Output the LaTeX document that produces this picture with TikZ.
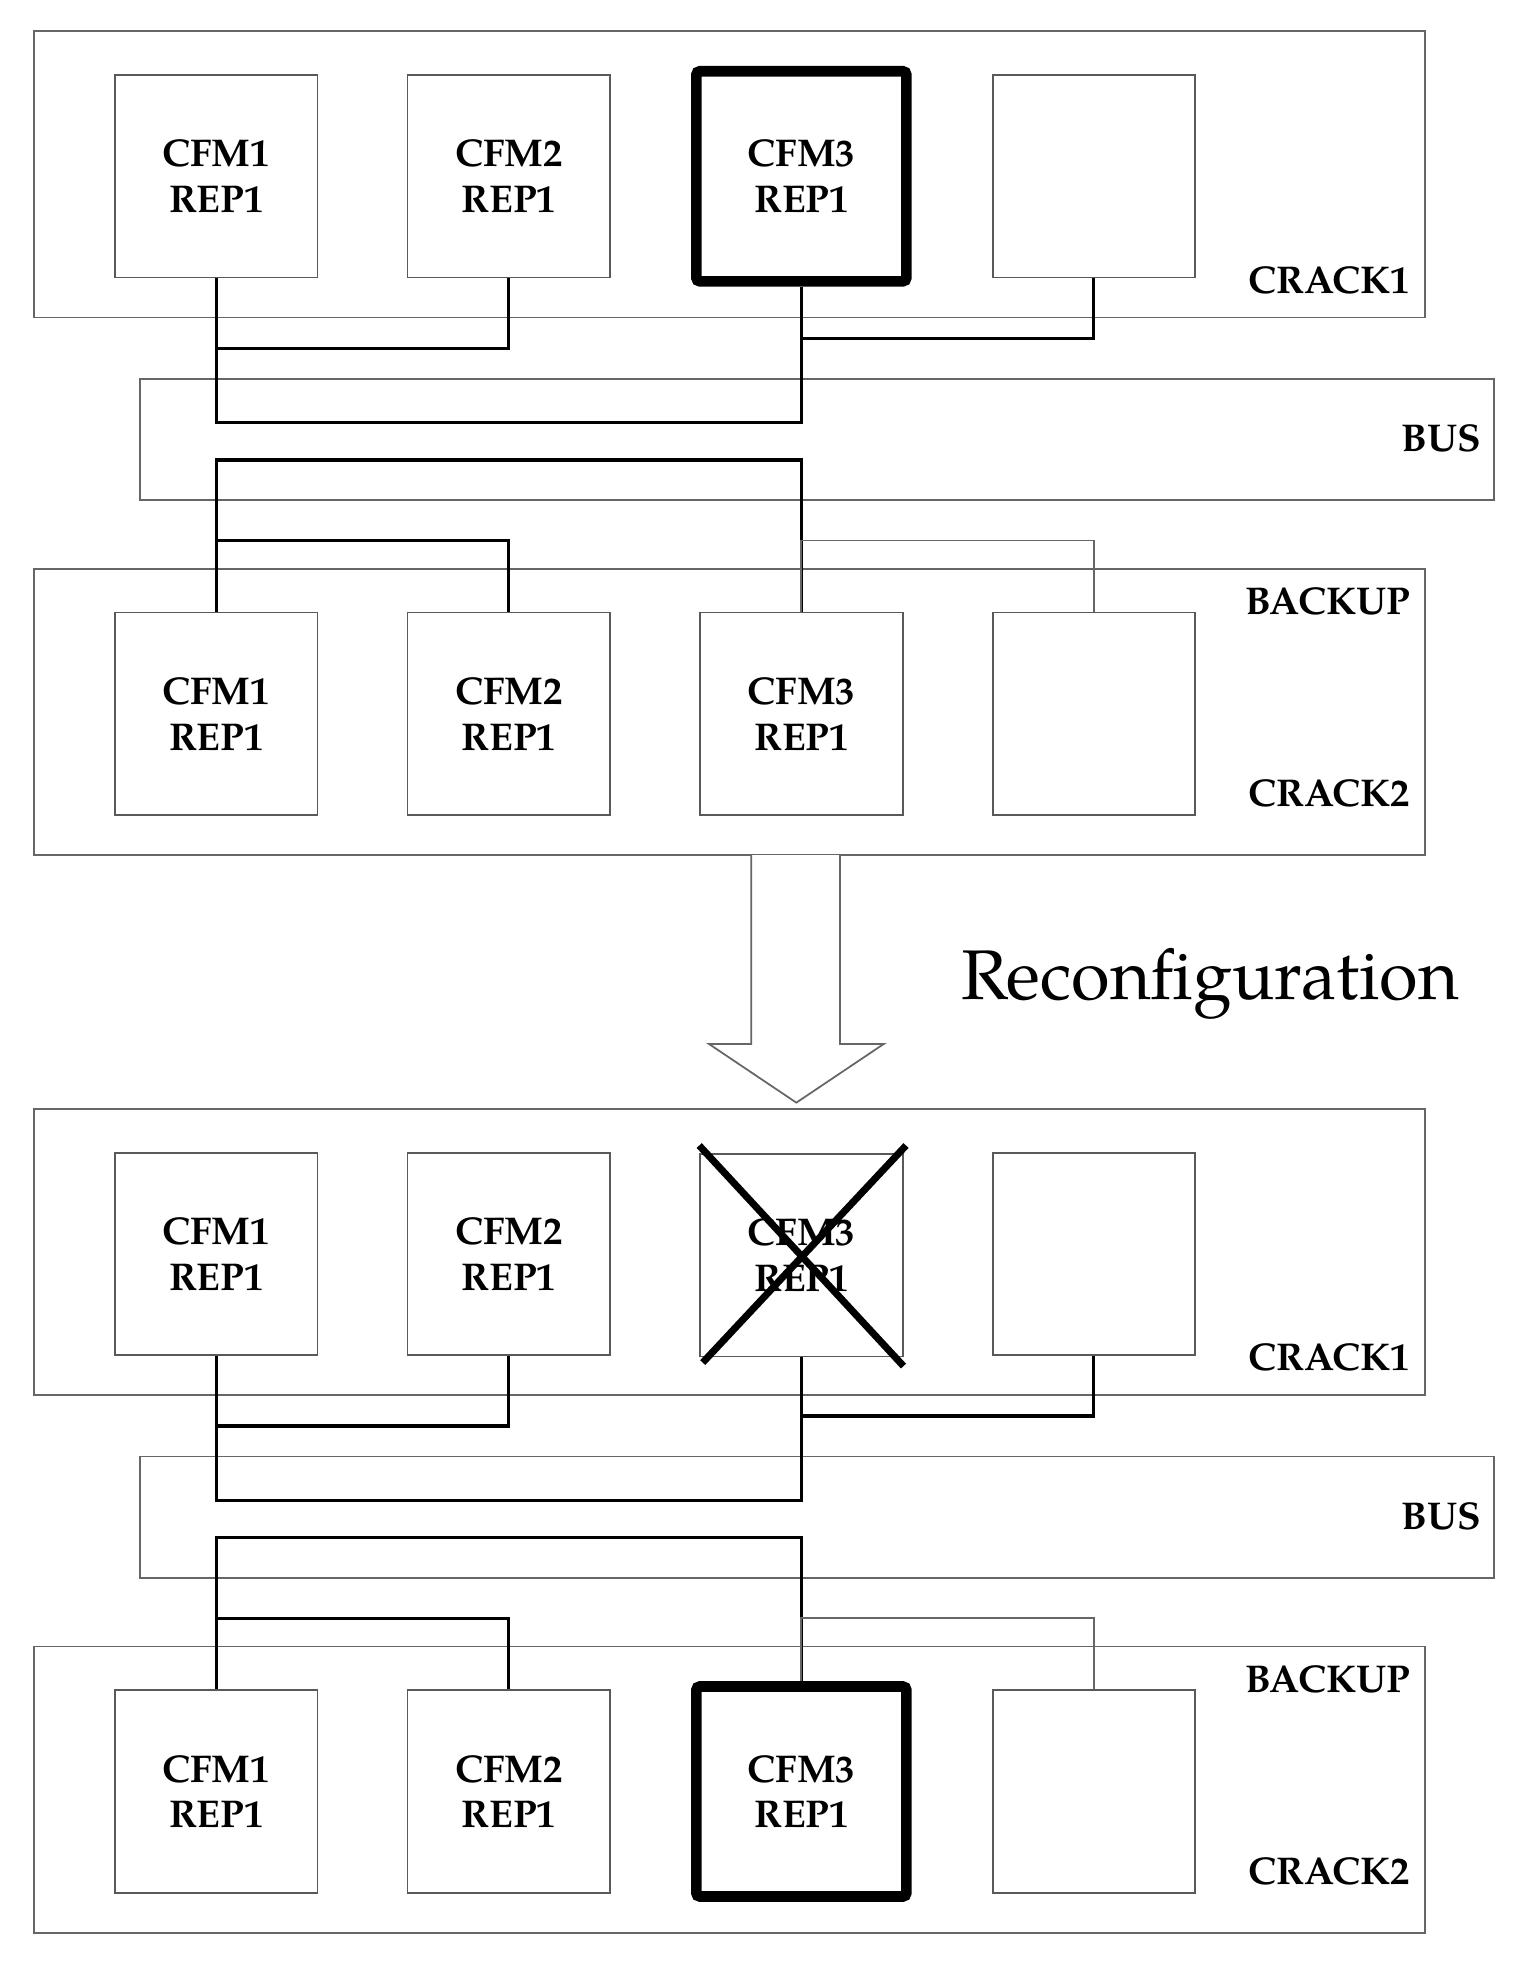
\documentclass[tikz,border=0pt]{standalone}
\usepackage{fontspec}
\setmainfont{TeX Gyre Pagella}[Ligatures=TeX]
\begin{document}
\begin{tikzpicture}[x=0.025cm,y=-0.025cm,
  frame/.style={draw=black!60,line width=1pt},
  box/.style={draw=black!65,line width=1pt,minimum width=162*0.025cm,minimum height=162*0.025cm,inner sep=0pt,align=center,font=\fontsize{22}{26}\selectfont\bfseries},
  thick box/.style={box,draw=black,line width=6pt,minimum width=168*0.025cm,minimum height=168*0.025cm,rounded corners=2pt},
  wire/.style={line width=1.8pt},
  gwire/.style={line width=1pt,draw=black!60},
  lab/.style={font=\fontsize{22}{26}\selectfont\bfseries,anchor=east}]
\useasboundingbox (0,0) rectangle (1220,1579);
\foreach \o/\p in {0/t,862/b}{
\begin{scope}[yshift=-\o*0.025cm]
 \draw[frame] (27,25) rectangle (1140,254);
 \draw[frame] (112,303) rectangle (1195,400);
 \draw[frame] (27,455) rectangle (1140,684);
 \node[lab] (c1\p) at (1133,224) {CRACK1};
 \node[lab] (bus\p) at (1190,351) {BUS};
 \node[lab] (bk\p) at (1133,481) {BACKUP};
 \node[lab] (c2\p) at (1133,635) {CRACK2};
 \node[box] (a1\p) at (173,141) {CFM1\\REP1};
 \node[box] (a2\p) at (407,141) {CFM2\\REP1};
 \node[box] (a4\p) at (875,141) {};
 \node[box] (b1\p) at (173,571) {CFM1\\REP1};
 \node[box] (b2\p) at (407,571) {CFM2\\REP1};
 \node[box] (b4\p) at (875,571) {};
 \coordinate (j1\p) at (173,338); \coordinate (j3\p) at (641,338);
 \coordinate (k1\p) at (173,368); \coordinate (k3\p) at (641,368);
\end{scope}}
\node[thick box] (a3t) at (641,141) {CFM3\\REP1};
\node[box] (b3t) at (641,571) {CFM3\\REP1};
\node[box] (a3b) at (641,1004) {CFM3\\REP1};
\node[thick box] (b3b) at (641,1433) {CFM3\\REP1};
\draw[line width=4pt] (a3b.north west) ++(0,-6) -- ([yshift=-5]a3b.south east) (a3b.north east)++(2,-6) -- ([xshift=2,yshift=-3]a3b.south west);
\foreach \p in {t,b}{
 \draw[wire] (a1\p.south) |- (j3\p) -- (a3\p.south);
 \draw[wire] (a2\p.south) -- ++(0,56) -| (a1\p.south);
 \draw[wire] (a4\p.south) -- ++(0,48) -| (a3\p.south);
 \draw[wire] (b1\p.north) |- (k3\p) -- (b3\p.north);
 \draw[wire] (b2\p.north) -- ++(0,-57) -| (b1\p.north);
 \draw[gwire] (b4\p.north) -- ++(0,-57) -| (b3\p.north);
}
\draw[frame,fill=white] (601,684) coordinate (ar) -- (601,835) -- (567,835) -- (637,882) -- (707,835) -- (672,835) -- (672,684);
\node[font=\fontsize{40}{46}\selectfont] (rc) at (968,787) {Reconfiguration};
\end{tikzpicture}
\end{document}
